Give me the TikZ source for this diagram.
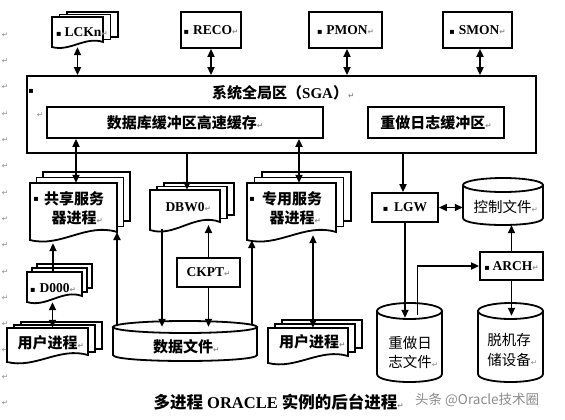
\documentclass[tikz,border=0pt]{standalone}
\usepackage{fontspec}
\setmainfont{Liberation Serif}
\newfontfamily\cjk{Noto Sans CJK SC}
\newfontfamily\dv{DejaVu Sans}
\usetikzlibrary{arrows.meta,calc,fit}
\newcommand\pmk{{\dv\fontsize{7.5}{7.5}\selectfont\color{black!45}↵}}
\newcommand\bul{{\dv\fontsize{8}{8}\selectfont ▪}}
\tikzset{
  bx/.style={draw, line width=1.8pt, fill=white, inner sep=0pt},
  shp/.style={draw, line width=1.8pt, fill=white},
  arr/.style={line width=1.8pt, -{Triangle[length=8pt,width=7pt]}},
  darr/.style={line width=1.8pt, {Triangle[length=8pt,width=7pt]}-{Triangle[length=8pt,width=7pt]}},
  en/.style={font=\fontsize{13.5}{16}\selectfont\bfseries, inner sep=0pt},
  cb/.style={font=\fontsize{15}{19}\selectfont\cjk\bfseries, inner sep=0pt, align=center},
  cr/.style={font=\fontsize{14.5}{19.5}\selectfont\cjk, inner sep=0pt, align=center},
  tx/.style={inner sep=0pt},
}
% name, x1,y1,x2,y2, dx,dy, drop
\newcommand\docs[8]{%
  \draw[shp] ({#2+2*(#6)},{#3+2*(#7)}) rectangle ({#4+2*(#6)},{#5+2*(#7)});
  \draw[shp] ({#2+(#6)},{#3+(#7)}) rectangle ({#4+(#6)},{#5+(#7)});
  \draw[shp] (#2,#3) -- (#4,#3) -- (#4,#5)
     .. controls ({#4-0.35*(#4-#2)},{#5-1.2*(#8)}) and ({#2+0.35*(#4-#2)},{#5+2.0*(#8)}) .. (#2,{#5+#8}) -- cycle;
  \node[inner sep=0pt, fit={(#2,#3) (#4,{#5+#8})}] (#1) {};
  \coordinate (#1se) at (#4,#5);
}
% name, x1,x2, ytop, ybottom, b
\newcommand\cyl[6]{%
  \draw[shp] (#2,#4) -- (#2,#5) .. controls (#2,{#5+1.333*(#6)}) and (#3,{#5+1.333*(#6)}) .. (#3,#5) -- (#3,#4);
  \draw[shp] ({(#2+#3)/2},#4) ellipse [x radius={(#3-#2)/2}, y radius=#6];
  \node[inner sep=0pt, fit={(#2,{#4-#6}) (#3,{#5+#6})}] (#1) {};
}
\begin{document}
\begin{tikzpicture}[x=1pt,y=-1pt]
\fill[white] (0,0) rectangle (565,420);
\useasboundingbox (0,0) rectangle (565,420);

% left margin marks
\foreach \i in {0,...,14} \node[tx] (mk\i) at (5,{35+26.3*\i}) {\pmk};

% top process boxes
\docs{lckn}{52}{17}{103}{42}{7.5}{-2.5}{5}
\node[bx, en, minimum width=60, minimum height=36] (reco) at (211,30) {\bul\hspace{4pt}RECO\pmk};
\node[bx, en, minimum width=73, minimum height=36] (pmon) at (345.5,30) {\bul\hspace{4pt}PMON\pmk};
\node[bx, en, minimum width=69, minimum height=36] (smon) at (477.5,30) {\bul\hspace{4pt}SMON\pmk};

% SGA
\node[bx, minimum width=509, minimum height=77] (sga) at (281.5,114.5) {};
\node[bx, cb, minimum width=276, minimum height=31] (buf) at (185,122.5) {数据库缓冲区高速缓存\pmk};
\node[bx, cb, minimum width=136, minimum height=31] (rbuf) at (436,122.5) {重做日志缓冲区\pmk};

% middle shapes
\docs{shs}{30}{183}{117}{232}{6.5}{-5.5}{8}
\docs{dbw}{150}{190}{220}{222}{7}{-3.5}{8}
\docs{ded}{247}{183}{336}{232}{7.5}{-5.5}{8}
\docs{d000}{27}{272}{82}{296}{5}{-4}{6}
\docs{upa}{7}{328}{88}{355}{7}{-3}{7}
\docs{upb}{268}{328}{348}{356}{7}{-4}{7}
\node[bx, en, minimum width=63, minimum height=29] (ckpt) at (208.5,272.5) {CKPT\pmk};
\node[bx, en, minimum width=66, minimum height=29] (lgw) at (405,207.5) {\bul\hspace{6pt}LGW};
\node[bx, en, minimum width=63, minimum height=28] (arch) at (511.5,266) {\bul\hspace{3pt}ARCH\pmk};

% cylinders
\cyl{ctl}{463}{543}{185}{218}{7}
\cyl{redo}{377}{442}{311}{374}{8}
\cyl{offl}{478}{543}{311}{374}{8}
\cyl{data}{113}{257}{327}{355}{6}

% connectors
\draw[darr] (lckn.south) -- (lckn.south |- sga.north);
\draw[darr] (reco.south) -- (reco.south |- sga.north);
\draw[darr] ([xshift=1.5pt]pmon.south) -- ([xshift=1.5pt]pmon.south |- sga.north);
\draw[darr] ([xshift=2.5pt]smon.south) -- ([xshift=2.5pt]smon.south |- sga.north);
\draw[darr] ([xshift=2.5pt]shs.north) -- ([xshift=2.5pt]shs.north |- buf.south);
\draw[darr] ([xshift=7.5pt]ded.north) -- ([xshift=7.5pt]ded.north |- buf.south);
\draw[arr] ([xshift=2pt]dbw.north |- sga.south) -- ([xshift=2pt]dbw.north);
\draw[arr] ([xshift=-2pt]lgw.north |- sga.south) -- ([xshift=-2pt]lgw.north);
\draw[darr] (lgw.east) -- (lgw.east -| ctl.west);
\draw[arr] (arch.north) -- (arch.north |- ctl.south);
\draw[arr] (arch.south) -- ($(arch.south |- offl.north)+(0,13)$);
\draw[arr] (lgw.south) -- ($(lgw.south |- redo.north)+(0,15)$);
\draw[arr] ($(redo.north)+(8,12)$) |- (arch.west);
\draw[arr] ($(shsse |- data.north)+(0,4)$) -- (shsse);
\draw[arr] ($(ded.south west |- data.north)+(5,4)$) -- ($(ded.south west)+(5,0)$);
\draw[arr] ($(dbw.south)+(-23,-1)$) -- ($(dbw.south |- data.north)+(-23,6)$);
\draw[arr] (ckpt.north) -- ($(ckpt.north |- dbwse)+(0,3)$);
\draw[arr] (ckpt.south) -- ($(ckpt.south |- data.north)+(0,6)$);
\draw[arr] ($(d000.north)+(-1.5,0)$) -- ($(d000.north |- shs.south)+(-1.5,3)$);
\draw[darr] ($(d000.south)+(-2,0)$) -- ($(upa.north -| d000.south)+(-2,0)$);
\draw[darr] ($(ded.south)+(21.5,-5)$) -- ($(upb.north -| ded.south)+(21.5,0)$);

% texts
\node[tx, en, anchor=west] (lckt) at (56,32) {\bul\hspace{3pt}LCKn\pmk};
\node[tx] (sgab) at (31,91) {\bul};
\node[tx, cb, anchor=west] (sgat) at (212,93) {系统全局区（{\rmfamily\bfseries SGA}）\pmk};
\node[tx] (bufm) at (40,115) {\pmk};
\node[tx] (shsb) at (36,199) {\bul};
\node[cb] (shst) at (74,208.5) {共享服务\\器进程\rlap{\pmk}};
\node[en] (dbwt) at (185,207) {DBW0\rlap{\pmk}};
\node[tx] (dedb) at (252,199) {\bul};
\node[cb] (dedt) at (292,208.5) {专用服务\\器进程\rlap{\pmk}};
\node[en, anchor=west] (d0t) at (30,288) {\bul\hspace{4pt}D000\pmk};
\node[cb] (upat) at (47.5,343) {用户进程\rlap{\pmk}};
\node[cb] (upbt) at (309,342) {用户进程\rlap{\pmk}};
\node[cb] (datt) at (183,347) {数据文件\rlap{\pmk}};
\node[cr] (ctlt) at (502.5,207) {控制文件\rlap{\pmk}};
\node[cr] (redt) at (410,352.5) {重做日\\志文件\rlap{\pmk}};
\node[cr] (offt) at (509,350) {脱机存\\储设备\rlap{\pmk}};

% caption and watermark
\node[tx, font=\fontsize{16.5}{18}\selectfont\bfseries] (cap) at (275.5,402) {{\cjk 多进程} ORACLE {\cjk 实例的后台进程}\rlap{\pmk}};
\node[tx, anchor=west, font=\fontsize{13.5}{14}\selectfont\cjk, text=black!45] (wm) at (415,400) {头条 @Oracle技术圈};
\end{tikzpicture}
\end{document}
